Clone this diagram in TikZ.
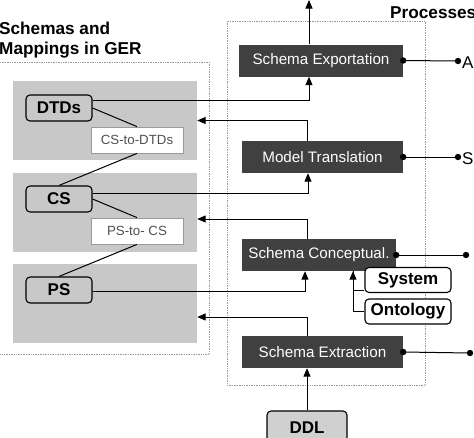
\documentclass[tikz,border=0pt]{standalone}
\usepackage{fontspec}
\setmainfont{Liberation Sans}
\usepackage{xcolor}
\usetikzlibrary{arrows.meta}
\definecolor{procfill}{HTML}{404040}
\definecolor{panelfill}{HTML}{C8C8C8}
\definecolor{framegray}{HTML}{9A9A9A}
\definecolor{muted}{HTML}{505050}
\tikzset{
  frame/.style={draw=framegray, densely dotted, line width=0.7pt},
  panel/.style={fill=panelfill, inner sep=0pt, minimum width=184pt, minimum height=79pt},
  schema/.style={draw, fill=panelfill, rounded corners=4pt, line width=1.1pt, inner sep=0pt,
    minimum width=66pt, minimum height=26pt, font=\bfseries\fontsize{17}{19}\selectfont},
  source/.style={schema, fill=white, minimum width=86pt, minimum height=25pt},
  mapping/.style={draw=framegray, fill=white, line width=0.8pt, inner sep=0pt, text=muted,
    minimum width=92pt, minimum height=26pt, font=\fontsize{13.3}{15}\selectfont},
  proc/.style={fill=procfill, text=white, inner sep=0pt, minimum height=32pt,
    font=\fontsize{15.2}{17}\selectfont},
  title/.style={inner sep=0pt, font=\bfseries\fontsize{17.2}{20}\selectfont},
  outlabel/.style={inner sep=0pt, font=\fontsize{17}{19}\selectfont},
  line/.style={line width=1pt},
  arr/.style={line, -{Triangle[length=8.5pt,width=7pt]}}
}

\begin{document}
\begin{tikzpicture}[x=1pt,y=-1pt]
\useasboundingbox (0,0) rectangle (474,437);

% frames
\draw[frame] (-5,62) rectangle (209,354);
\draw[frame] (227,21) rectangle (425,385);
\node[title, anchor=north west, align=left] (ger) at (-1,22) {Schemas and\\Mappings in GER};
\node[title, anchor=base west] (prc) at (390,18) {Processes};

% schema panels
\node[panel] (pdtd) at (105,120.5) {};
\node[panel] (pcs) at (105,212) {};
\node[panel] (pps) at (105,303) {};

\node[schema] (dtd) at (59,108) {DTDs};
\node[schema] (cs) at (59,199) {CS};
\node[schema] (ps) at (59,290) {PS};
\node[mapping] (cs2dtd) at (137,140) {CS-to-DTDs};
\node[mapping] (ps2cs) at (137,231) {PS-to- CS};

\draw[line] (dtd.east) -- (cs2dtd.north);
\draw[line] (cs2dtd.south) -- (cs.north);
\draw[line] (cs.east) -- (ps2cs.north);
\draw[line] (ps2cs.south) -- (ps.north);

% processes
\node[proc, minimum width=164pt] (exp) at (321,60.5) {Schema Exportation};
\node[proc, minimum width=161pt] (trans) at (322.5,157) {Model Translation};
\node[proc, minimum width=154pt] (conc) at (319,255) {Schema Conceptual.};
\node[proc, minimum width=161pt] (ext) at (322.5,352) {Schema Extraction};
\node[source] (sys) at (408,280) {System};
\node[source] (onto) at (408,311.5) {Ontology};
\node[schema, fill=panelfill!85!white, minimum width=80pt, minimum height=34pt] (ddl) at (307,428) {DDL};

% flows
\coordinate (top) at (309,0);
\draw[arr] ([xshift=-12]exp.north) -- (top);
\draw[arr] ([yshift=8]dtd.east) -| ([xshift=-12]exp.south);
\draw[arr] ([xshift=-15.5]trans.north) |- (pdtd.east);
\draw[arr] ([yshift=6]cs.east) -| ([xshift=-14.5]trans.south);
\draw[arr] ([xshift=-12]conc.north) |- ([yshift=-7]pcs.east);
\draw[arr] ([yshift=-1]ps.east) -| ([xshift=-14]conc.south);
\draw[arr] (onto.west) -| ([xshift=34]conc.south);
\draw[line] ([yshift=-10]sys.west) -| ([xshift=34]conc.south);
\draw[arr] ([xshift=-15.5]ext.north) |- ([yshift=-14]pps.east);
\draw[arr] (ddl.north) -- (ddl.north |- ext.south);

% outputs
\coordinate (expo) at (458,61);
\coordinate (trano) at (458,157);
\coordinate (conco) at (466,255);
\coordinate (exto) at (470,353);
\draw[line] (exp.east) -- (expo);
\draw[line] (trans.east) -- (trano);
\draw[line] (conc.east) -- (conco);
\draw[line] (ext.east) -- (exto);
\fill (exp.east) circle (3.2pt) (expo) circle (3.2pt);
\fill (trans.east) circle (3.2pt) (trano) circle (3.2pt);
\fill (conc.east) circle (3.2pt) (conco) circle (3.2pt);
\fill (ext.east) circle (3.2pt) (exto) circle (3.2pt);
\node[outlabel, anchor=base west] (atxt) at (462,68) {A};
\node[outlabel, anchor=base west] (stxt) at (462,164) {S};
\end{tikzpicture}
\end{document}
